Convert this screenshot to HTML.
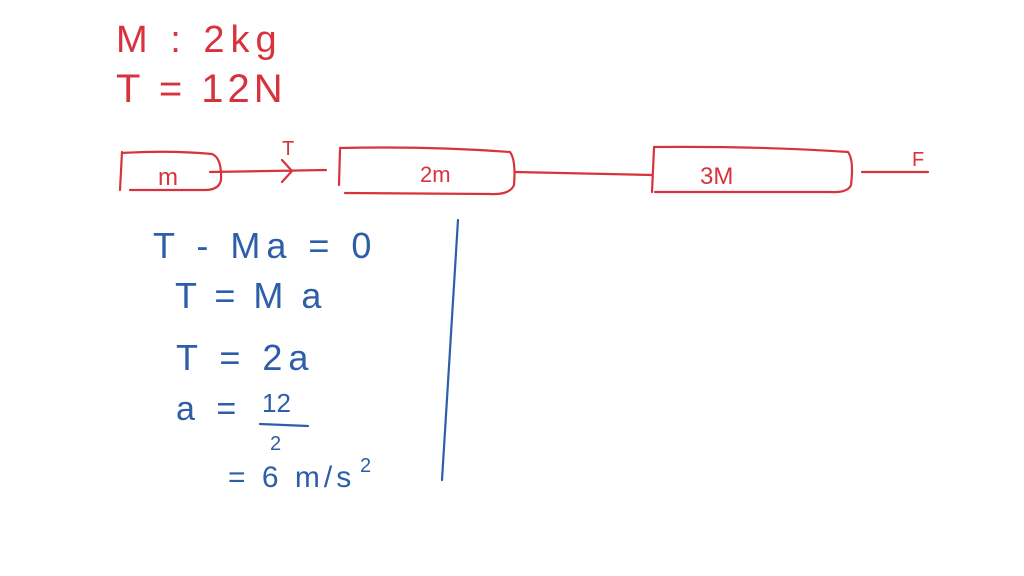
<!DOCTYPE html>
<html><head><meta charset="utf-8"><style>
html,body{margin:0;padding:0;background:#fff;}
svg{display:block}
.r{fill:#d8323c;font-family:"Liberation Sans",sans-serif;}
.b{fill:#2e5ea8;font-family:"Liberation Sans",sans-serif;}
</style></head><body>
<svg width="1024" height="576" viewBox="0 0 1024 576" xmlns="http://www.w3.org/2000/svg">
<rect width="1024" height="576" fill="#fff"/>
<g class="r">
<text x="116" y="52" font-size="38" letter-spacing="6">M : 2kg</text>
<text x="116" y="102" font-size="40" letter-spacing="4">T = 12N</text>
<text x="282" y="155" font-size="20">T</text>
<text x="158" y="185" font-size="24">m</text>
<text x="420" y="182" font-size="22">2m</text>
<text x="700" y="184" font-size="24">3M</text>
<text x="912" y="166" font-size="20">F</text>
</g>
<g fill="none" stroke="#d8323c" stroke-width="2.2" stroke-linecap="round">
<path d="M122 152 L120 190 M122 153 Q170 150 212 154 Q222 158 221 180 Q219 190 205 190 L130 190"/>
<path d="M210 172 L326 170 M282 160 L292 171 L282 182"/>
<path d="M340 150 L339 185 M340 148 Q430 146 510 152 Q516 160 514 185 Q510 195 490 194 L345 193"/>
<path d="M515 172 L652 175"/>
<path d="M654 148 L652 192 M654 147 Q760 146 848 152 Q854 160 851 185 Q848 193 830 192 L655 192"/>
<path d="M862 172 L928 172"/>
</g>
<g class="b">
<text x="153" y="258" font-size="36" letter-spacing="6">T - Ma = 0</text>
<text x="175" y="308" font-size="36" letter-spacing="4">T = M a</text>
<text x="176" y="370" font-size="36" letter-spacing="6">T = 2a</text>
<text x="176" y="420" font-size="34" letter-spacing="6">a =</text>
<text x="262" y="412" font-size="26">12</text>
<text x="270" y="450" font-size="20">2</text>
<text x="228" y="487" font-size="30" letter-spacing="4">= 6 m/s</text>
<text x="360" y="472" font-size="20">2</text>
</g>
<g fill="none" stroke="#2e5ea8" stroke-width="2.2" stroke-linecap="round">
<path d="M458 220 L442 480"/>
<path d="M260 424 L308 426"/>
</g>
</svg>
</body></html>
